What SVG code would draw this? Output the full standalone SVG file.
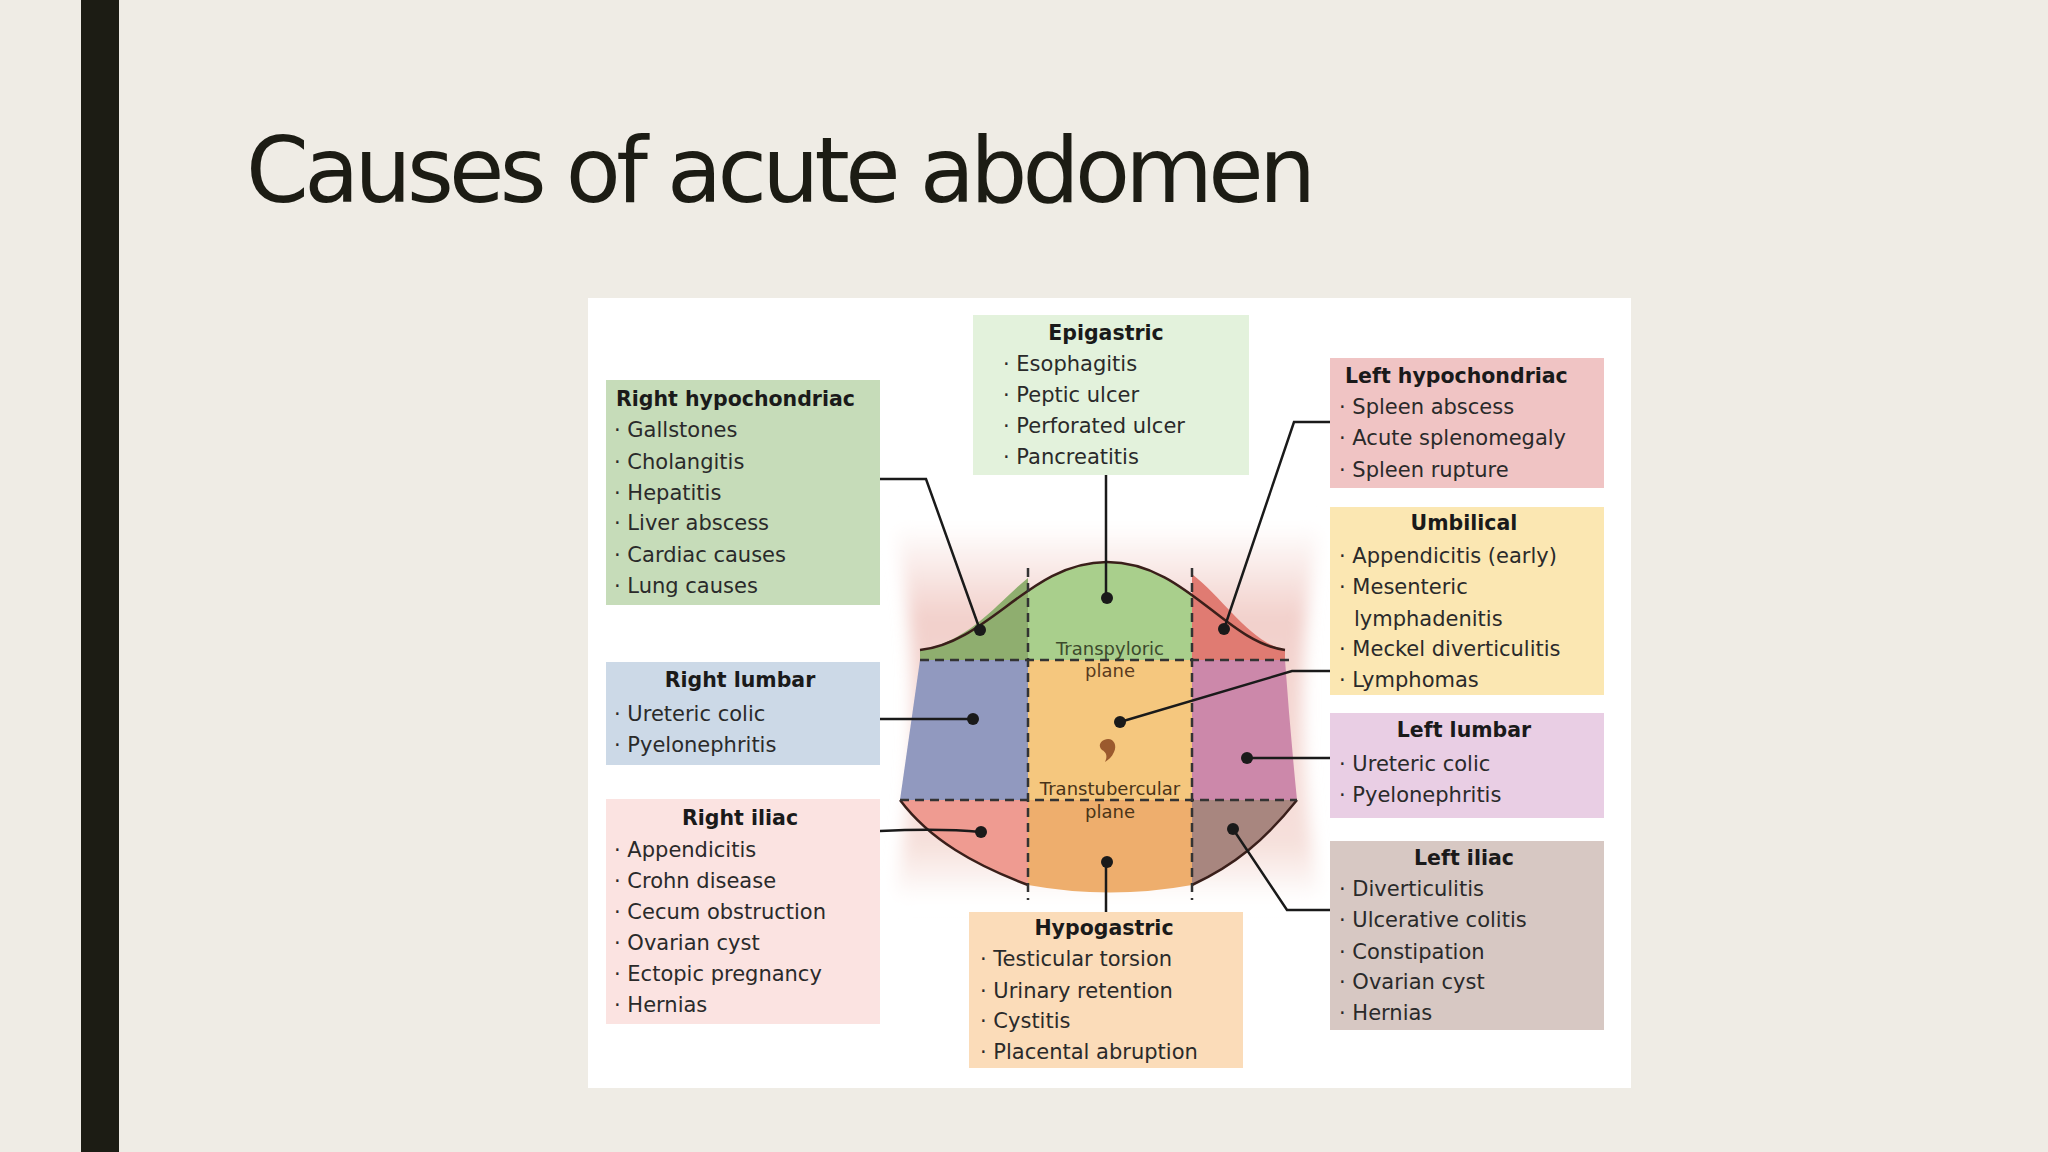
<svg xmlns="http://www.w3.org/2000/svg" width="2048" height="1152" viewBox="0 0 2048 1152">
<defs>
<style>
.t{font-family:"DejaVu Sans","Liberation Sans",sans-serif;font-size:21px;fill:#2a2a2a}
.h{font-family:"DejaVu Sans","Liberation Sans",sans-serif;font-size:20.5px;font-weight:bold;fill:#1a1a1a}
.c{text-anchor:middle}
.pl{font-family:"DejaVu Sans","Liberation Sans",sans-serif;font-size:18px;text-anchor:middle}
.ld{fill:none;stroke:#1a1a1a;stroke-width:2.5}
.dash{fill:none;stroke:#333;stroke-width:2.5;stroke-dasharray:9,6}
.edge{fill:none;stroke:#3a1f1a;stroke-width:2.5}
</style>
<linearGradient id="skin" x1="0" y1="0" x2="0" y2="1">
<stop offset="0" stop-color="#fff"/>
<stop offset="0.25" stop-color="#f2d0cb"/>
<stop offset="0.85" stop-color="#f6e0db"/>
<stop offset="1" stop-color="#fff"/>
</linearGradient>
<filter id="blur"><feGaussianBlur stdDeviation="8"/></filter>
</defs>
<rect width="2048" height="1152" fill="#efece5"/>
<rect x="81" y="0" width="38" height="1152" fill="#1c1c14"/>
<text x="246" y="202" font-family="'DejaVu Sans',sans-serif" font-size="90" fill="#1c1c14" textLength="1070">Causes of acute abdomen</text>
<rect x="588" y="298" width="1043" height="790" fill="#fff"/>

<g id="body">
<path d="M895,525 L1320,525 Q1285,700 1320,900 L895,900 Q930,700 895,525 Z" fill="url(#skin)" filter="url(#blur)"/>
<path d="M920,660 L920,650 C990,642 1030,562 1107,562 C1185,562 1225,642 1285,650 L1285,660 Z" fill="#a9cf8c"/>
<path d="M920,660 L920,650 C970,642 1000,600 1028,578 L1028,660 Z" fill="#8fae6f"/>
<path d="M1192,660 L1192,574 C1225,600 1250,642 1285,650 L1285,660 Z" fill="#e07b72"/>
<path d="M920,660 L1028,660 L1028,800 L900,800 Q910,730 920,660 Z" fill="#9199bf"/>
<path d="M1028,660 L1192,660 L1192,800 L1028,800 Z" fill="#f5c77e"/>
<path d="M1192,660 L1285,660 Q1290,730 1297,800 L1192,800 Z" fill="#cc88aa"/>
<path d="M900,800 L1028,800 L1028,885 C975,865 930,840 900,800 Z" fill="#ef9b91"/>
<path d="M1028,800 L1192,800 L1192,885 Q1110,900 1028,885 Z" fill="#eeae6d"/>
<path d="M1192,800 L1297,800 C1265,840 1235,865 1192,885 Z" fill="#a8867f"/>
<path class="edge" d="M920,650 C990,642 1030,562 1107,562 C1185,562 1225,642 1285,650"/>
<path class="edge" d="M900,800 C930,840 975,865 1028,885"/>
<path class="edge" d="M1297,800 C1265,840 1235,865 1192,885"/>
<line class="dash" x1="1028" y1="568" x2="1028" y2="900"/>
<line class="dash" x1="1192" y1="568" x2="1192" y2="900"/>
<line class="dash" x1="920" y1="660" x2="1290" y2="660"/>
<line class="dash" x1="900" y1="800" x2="1297" y2="800"/>
<text class="pl" x="1110" y="655" fill="#3c4a2c">Transpyloric</text>
<text class="pl" x="1110" y="677" fill="#5a3a20">plane</text>
<text class="pl" x="1110" y="795" fill="#4a3418">Transtubercular</text>
<text class="pl" x="1110" y="818" fill="#4a3418">plane</text>
<path d="M1104,740 C1112,736 1118,744 1114,752 C1112,757 1108,760 1105,762 C1108,756 1106,752 1102,750 C1098,746 1100,742 1104,740 Z" fill="#9b5a2e"/>
</g>

<g id="connectors">
<polyline class="ld" points="880,479 926,479 980,630"/>
<polyline class="ld" points="1106,475 1106,598"/>
<polyline class="ld" points="1330,422 1294,422 1224,629"/>
<polyline class="ld" points="1330,671 1292,671 1120,722"/>
<polyline class="ld" points="880,719 973,719"/>
<polyline class="ld" points="1330,758 1247,758"/>
<path class="ld" d="M880,831 Q940,828 981,832"/>
<polyline class="ld" points="1106,912 1106,862"/>
<polyline class="ld" points="1330,910 1287,910 1233,829"/>
<g fill="#1a1a1a">
<circle cx="980" cy="630" r="6"/><circle cx="1107" cy="598" r="6"/><circle cx="1224" cy="629" r="6"/>
<circle cx="1120" cy="722" r="6"/><circle cx="973" cy="719" r="6"/><circle cx="1247" cy="758" r="6"/>
<circle cx="981" cy="832" r="6"/><circle cx="1107" cy="862" r="6"/><circle cx="1233" cy="829" r="6"/>
</g>
</g>

<g id="epigastric">
<rect x="973" y="315" width="276" height="160" fill="#e3f2dc"/>
<text class="h c" x="1106" y="340">Epigastric</text>
<text class="t" x="1003" y="371">· Esophagitis</text>
<text class="t" x="1003" y="402">· Peptic ulcer</text>
<text class="t" x="1003" y="433">· Perforated ulcer</text>
<text class="t" x="1003" y="464">· Pancreatitis</text>
</g>
<g id="right-hypochondriac">
<rect x="606" y="380" width="274" height="225" fill="#c6dcb9"/>
<text class="h" x="616" y="406">Right hypochondriac</text>
<text class="t" x="614" y="437">· Gallstones</text>
<text class="t" x="614" y="469">· Cholangitis</text>
<text class="t" x="614" y="500">· Hepatitis</text>
<text class="t" x="614" y="530">· Liver abscess</text>
<text class="t" x="614" y="562">· Cardiac causes</text>
<text class="t" x="614" y="593">· Lung causes</text>
</g>
<g id="right-lumbar">
<rect x="606" y="662" width="274" height="103" fill="#ccd9e7"/>
<text class="h c" x="740" y="687">Right lumbar</text>
<text class="t" x="614" y="721">· Ureteric colic</text>
<text class="t" x="614" y="752">· Pyelonephritis</text>
</g>
<g id="right-iliac">
<rect x="606" y="799" width="274" height="225" fill="#fbe3e1"/>
<text class="h c" x="740" y="825">Right iliac</text>
<text class="t" x="614" y="857">· Appendicitis</text>
<text class="t" x="614" y="888">· Crohn disease</text>
<text class="t" x="614" y="919">· Cecum obstruction</text>
<text class="t" x="614" y="950">· Ovarian cyst</text>
<text class="t" x="614" y="981">· Ectopic pregnancy</text>
<text class="t" x="614" y="1012">· Hernias</text>
</g>
<g id="hypogastric">
<rect x="969" y="912" width="274" height="156" fill="#fbdcb9"/>
<text class="h c" x="1104" y="935">Hypogastric</text>
<text class="t" x="980" y="966">· Testicular torsion</text>
<text class="t" x="980" y="998">· Urinary retention</text>
<text class="t" x="980" y="1028">· Cystitis</text>
<text class="t" x="980" y="1059">· Placental abruption</text>
</g>
<g id="left-hypochondriac">
<rect x="1330" y="358" width="274" height="130" fill="#f0c4c4"/>
<text class="h" x="1345" y="383">Left hypochondriac</text>
<text class="t" x="1339" y="414">· Spleen abscess</text>
<text class="t" x="1339" y="445">· Acute splenomegaly</text>
<text class="t" x="1339" y="477">· Spleen rupture</text>
</g>
<g id="umbilical">
<rect x="1330" y="507" width="274" height="188" fill="#fbe7b2"/>
<text class="h c" x="1464" y="530">Umbilical</text>
<text class="t" x="1339" y="563">· Appendicitis (early)</text>
<text class="t" x="1339" y="594">· Mesenteric</text>
<text class="t" x="1354" y="626">lymphadenitis</text>
<text class="t" x="1339" y="656">· Meckel diverticulitis</text>
<text class="t" x="1339" y="687">· Lymphomas</text>
</g>
<g id="left-lumbar">
<rect x="1330" y="713" width="274" height="105" fill="#e9cee4"/>
<text class="h c" x="1464" y="737">Left lumbar</text>
<text class="t" x="1339" y="771">· Ureteric colic</text>
<text class="t" x="1339" y="802">· Pyelonephritis</text>
</g>
<g id="left-iliac">
<rect x="1330" y="841" width="274" height="189" fill="#d7c8c3"/>
<text class="h c" x="1464" y="865">Left iliac</text>
<text class="t" x="1339" y="896">· Diverticulitis</text>
<text class="t" x="1339" y="927">· Ulcerative colitis</text>
<text class="t" x="1339" y="959">· Constipation</text>
<text class="t" x="1339" y="989">· Ovarian cyst</text>
<text class="t" x="1339" y="1020">· Hernias</text>
</g>
</svg>
